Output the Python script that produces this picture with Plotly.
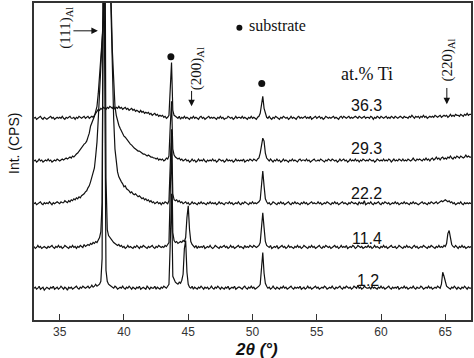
import numpy as np
import plotly.graph_objects as go

# ---------------- data ----------------
SCAN_START = 33.0   # 2theta of first point
SCAN_STEP = 0.1     # 2theta step of the scan
N_POINTS = 341
two_theta = np.round(SCAN_START + SCAN_STEP * np.arange(N_POINTS), 2)

ti_labels = ["1.2", "11.4", "22.2", "29.3", "36.3"]

# intensity above each pattern's own baseline (arbitrary units), one value per 0.1 deg
ti_1_2 = [
    0, 1, -1, 0, 2, -1, 0, 1, -2, 0,          # 33
    1, 0, -1, 1, 0, 2, -1, 0, 1, -1,          # 34
    0, 2, 0, -1, 1, 0, -2, 1, 0, 1,           # 35
    -1, 0, 1, 2, 0, -1, 1, 0, 2, 1,           # 36
    0, 1, 2, 0, 1, 3, 1, 2, 4, 2,             # 37
    3, 4, 7, 30, 420, 200, 18, 7, 4, 3,       # 38
    2, 1, 0, 2, 1, -1, 0, 1, 0, 2,            # 39
    0, -1, 1, 0, 2, 0, -1, 1, 0, -1,          # 40
    1, 0, 2, -1, 0, 1, 0, -1, 2, 0,           # 41
    -1, 1, 0, 0, 2, -1, 1, 0, -1, 1,          # 42
    0, 2, 1, 0, 2, 4, 45, 95, 12, 8,          # 43
    6, 5, 4, 6, 5, 8, 14, 40, 48, 16,         # 44
    4, 1, 0, 2, -1, 1, 0, -1, 1, 0,           # 45
    2, 0, -1, 1, 0, 1, -1, 0, 2, 0,           # 46
    -1, 1, 0, 2, 0, -1, 1, 0, -1, 1,          # 47
    0, 2, -1, 0, 1, 0, 2, -1, 0, 1,           # 48
    1, 0, -1, 1, 2, 0, -1, 1, 0, 2,           # 49
    0, 1, -1, 0, 1, 2, 4, 20, 36, 15,         # 50
    5, 2, 0, 1, -1, 0, 2, 0, -1, 1,           # 51
    0, -1, 1, 0, 2, 0, 1, -1, 0, 1,           # 52
    2, 0, -1, 1, 0, 1, 0, 2, -1, 0,           # 53
    1, -1, 0, 2, 0, 1, -1, 0, 1, 2,           # 54
    0, 1, -1, 0, 1, 0, 2, 1, -1, 0,           # 55
    1, 0, 2, 0, -1, 1, 0, 1, 2, 0,            # 56
    -1, 1, 0, 2, 1, 0, 1, -1, 0, 2,           # 57
    1, 0, 3, 0, 1, -1, 0, 2, 1, 0,            # 58
    0, 1, -1, 2, 0, 1, 0, -1, 1, 0,           # 59
    2, 0, 1, -1, 0, 1, 2, 0, -1, 1,           # 60
    0, 1, 0, 2, -1, 0, 1, 0, 2, 0,            # 61
    1, -1, 0, 1, 0, 2, 0, -1, 1, 0,           # 62
    0, 2, 1, -1, 0, 1, 0, 2, 0, 1,            # 63
    -1, 0, 1, 0, 2, 1, 0, 4, 16, 12,          # 64
    5, 2, 1, 0, -1, 1, 0, 2, 0, -1,           # 65
    1, 0, -1, 1, 0, 2, 0, -1, 1, 0,           # 66
    0]                                        # 67

ti_11_4 = [
    1, -1, 0, 2, 0, 1, -1, 0, 1, 0,           # 33
    -1, 1, 0, 1, 2, 0, -1, 1, 0, 2,           # 34
    0, 1, -1, 0, 2, 1, 0, -1, 1, 0,           # 35
    2, 0, 1, -1, 1, 0, 2, 1, 0, 3,            # 36
    1, 2, 3, 2, 4, 3, 5, 4, 6, 5,             # 37
    7, 10, 16, 45, 300, 420, 70, 18, 12, 10,  # 38
    8, 7, 5, 4, 3, 2, 3, 1, 2, 0,             # 39
    1, -1, 0, 2, 0, 1, 0, -1, 1, 0,           # 40
    2, 0, -1, 1, 0, 2, 1, 0, -1, 1,           # 41
    0, 1, 2, 0, -1, 1, 0, 2, 1, 0,            # 42
    1, 0, 2, 1, 3, 5, 55, 105, 15, 7,         # 43
    5, 6, 4, 5, 6, 5, 7, 6, 10, 30,           # 44
    42, 18, 6, 3, 1, 0, 2, -1, 1, 0,          # 45
    1, 0, 2, -1, 0, 1, 0, 2, 0, -1,           # 46
    0, 2, 1, 0, -1, 1, 0, 1, 2, 0,            # 47
    1, -1, 0, 2, 0, 1, -1, 0, 1, 2,           # 48
    0, 1, 0, -1, 2, 0, 1, 0, 2, 1,            # 49
    0, 2, 1, 0, 1, 2, 5, 25, 35, 20,          # 50
    6, 2, 1, 0, 2, -1, 0, 1, 0, 2,            # 51
    -1, 0, 1, 2, 0, 1, -1, 0, 2, 0,           # 52
    1, 0, -1, 1, 0, 2, 0, 1, -1, 0,           # 53
    2, 1, 0, -1, 1, 0, 2, 0, 1, -1,           # 54
    0, 1, 2, 0, -1, 1, 0, 2, 1, 0,            # 55
    1, -1, 0, 1, 2, 0, 1, -1, 0, 2,           # 56
    0, 1, 0, 2, -1, 0, 1, 0, 2, 1,            # 57
    -1, 0, 2, 1, 0, 1, -1, 0, 1, 0,           # 58
    2, 0, 1, -1, 0, 2, 0, 1, 0, -1,           # 59
    1, 0, 2, 0, 1, -1, 0, 1, 2, 0,            # 60
    0, 1, -1, 0, 2, 1, 0, -1, 1, 0,           # 61
    2, 0, 1, 0, -1, 1, 2, 0, 1, -1,           # 62
    0, 1, 0, 2, 1, 0, -1, 1, 0, 2,            # 63
    1, 0, -1, 1, 0, 2, 0, 1, 0, 2,            # 64
    1, 4, 14, 17, 8, 3, 1, 0, 2, 0,           # 65
    -1, 1, 0, 2, 0, 1, -1, 0, 1, 0,           # 66
    1]                                        # 67

ti_22_2 = [
    0, 1, -1, 0, 1, 2, 0, -1, 1, 0,           # 33
    1, 0, 2, 0, -1, 1, 0, 1, 2, 1,            # 34
    0, 2, 1, 1, 3, 2, 1, 3, 2, 4,             # 35
    3, 5, 4, 6, 5, 7, 6, 8, 9, 10,            # 36
    12, 13, 16, 18, 22, 26, 32, 36, 48, 62,   # 37
    85, 115, 150, 190, 225, 250, 265, 270, 265, 240,  # 38
    190, 130, 85, 55, 40, 32, 27, 24, 22, 20, # 39
    17, 18, 15, 14, 13, 11, 12, 10, 9, 10,    # 40
    8, 7, 8, 6, 5, 6, 4, 5, 3, 4,             # 41
    2, 3, 1, 2, 0, 1, 2, 0, 1, -1,            # 42
    1, 0, 2, 1, 0, 3, 40, 75, 10, 4,          # 43
    3, 4, 2, 3, 1, 2, 0, 1, 2, 0,             # 44
    1, -1, 0, 2, 0, 1, 0, -1, 1, 0,           # 45
    2, 0, 1, 0, -1, 1, 0, 2, 0, 1,            # 46
    0, 1, -1, 0, 2, 0, 1, 0, -1, 1,           # 47
    1, 0, 2, 0, 1, -1, 0, 1, 0, 2,            # 48
    0, -1, 1, 0, 2, 1, 0, -1, 1, 0,           # 49
    2, 0, 1, 0, 1, 2, 4, 20, 33, 18,          # 50
    5, 2, 0, 1, -1, 0, 2, 1, 0, -1,           # 51
    1, 0, 2, 0, 1, -1, 0, 1, 2, 0,            # 52
    -1, 1, 0, 2, 0, 1, 0, -1, 1, 0,           # 53
    2, 0, 1, -1, 0, 1, 2, 0, 1, 0,            # 54
    0, 2, 0, 1, -1, 0, 1, 0, 2, 1,            # 55
    0, -1, 1, 0, 2, 0, 1, -1, 0, 1,           # 56
    2, 0, 1, 0, -1, 1, 0, 2, 1, 0,            # 57
    1, 0, -1, 2, 0, 1, 0, 3, -1, 0,           # 58
    1, 0, 2, 0, -1, 1, 0, 1, 2, 0,            # 59
    -1, 1, 0, 2, 1, 0, 1, -1, 0, 1,           # 60
    0, 2, 0, 1, -1, 0, 1, 0, 2, 0,            # 61
    1, 0, -1, 1, 0, 2, 0, 1, 0, -1,           # 62
    0, 1, 2, 0, 1, 0, -1, 1, 0, 2,            # 63
    1, 0, 1, 2, 0, 1, 2, 3, 2, 3,             # 64
    4, 3, 2, 3, 1, 2, 0, 1, -1, 0,            # 65
    1, 0, 2, 0, -1, 1, 0, 1, 0, 1,            # 66
    0]                                        # 67

ti_29_3 = [
    0, 1, -1, 0, 2, 0, 1, -1, 0, 1,           # 33
    0, 2, 0, 1, -1, 0, 1, 0, 2, 1,            # 34
    0, 1, 2, 1, 2, 3, 2, 3, 4, 3,             # 35
    5, 4, 6, 7, 8, 10, 11, 13, 15, 17,        # 36
    18, 20, 24, 28, 35, 38, 42, 45, 50, 55,   # 37
    68, 85, 100, 120, 140, 165, 185, 195, 200, 190,  # 38
    160, 110, 75, 55, 46, 40, 36, 33, 30, 28, # 39
    25, 24, 22, 20, 18, 17, 16, 14, 13, 12,   # 40
    11, 10, 10, 9, 8, 7, 7, 6, 5, 6,          # 41
    5, 4, 4, 3, 3, 2, 3, 1, 2, 1,             # 42
    2, 0, 1, 3, 2, 5, 35, 60, 12, 6,          # 43
    4, 3, 2, 3, 1, 2, 0, 1, 2, 0,             # 44
    1, -1, 0, 2, 0, 1, -1, 0, 2, 0,           # 45
    1, 0, 2, 0, -1, 1, 0, 1, 0, 2,            # 46
    0, 1, -1, 0, 2, 1, 0, 1, -1, 0,           # 47
    2, 0, 1, 0, 1, -1, 0, 2, 0, 1,            # 48
    0, 1, 0, 2, -1, 0, 1, 0, 2, 1,            # 49
    0, 2, 1, 0, 2, 3, 8, 18, 23, 20,          # 50
    8, 3, 1, 0, 2, 0, -1, 1, 0, 2,            # 51
    0, 1, -1, 0, 2, 0, 1, 0, -1, 1,           # 52
    0, 2, 0, 1, 0, -1, 1, 2, 0, 1,            # 53
    1, 0, 2, 0, 1, -1, 0, 1, 2, 0,            # 54
    0, 1, 0, 2, 1, 0, -1, 1, 0, 2,            # 55
    1, 0, 2, 1, 0, 1, -1, 0, 2, 0,            # 56
    1, 2, 0, 1, -1, 0, 2, 0, 1, 0,            # 57
    2, 0, 1, -1, 1, 0, 2, 1, 0, 1,            # 58
    0, 2, 1, 0, 1, -1, 0, 2, 1, 0,            # 59
    1, 0, 2, 0, 1, 0, 2, 1, -1, 1,            # 60
    2, 0, 1, 0, 2, 1, 0, 2, 0, 1,             # 61
    0, 2, 1, 0, 1, 3, 1, 0, 2, 1,             # 62
    2, 1, 0, 2, 1, 3, 1, 2, 0, 2,             # 63
    3, 1, 2, 4, 2, 3, 1, 3, 4, 2,             # 64
    3, 2, 4, 3, 5, 3, 2, 4, 3, 5,             # 65
    4, 3, 5, 4, 3, 4, 6, 4, 5, 4,             # 66
    4]                                        # 67

ti_36_3 = [
    0, 1, -1, 0, 1, 2, 0, -1, 1, 0,           # 33
    -1, 0, 1, 2, 0, 1, -1, 0, 1, 0,           # 34
    1, 0, 2, 0, -1, 1, 0, 1, 2, 0,            # 35
    0, 1, -1, 1, 0, 2, 1, 0, 1, 2,            # 36
    0, 1, 2, 0, 1, 2, 1, 3, 4, 7,             # 37
    9, 8, 10, 9, 11, 10, 9, 11, 10, 12,       # 38
    11, 10, 12, 9, 11, 10, 12, 10, 11, 9,     # 39
    10, 11, 9, 10, 8, 9, 10, 8, 9, 7,         # 40
    8, 7, 6, 8, 6, 7, 5, 6, 5, 6,             # 41
    4, 5, 3, 4, 5, 3, 4, 2, 3, 2,             # 42
    3, 1, 2, 0, 1, 3, 30, 56, 8, 3,           # 43
    2, 1, 0, 2, -1, 1, 0, 2, 0, 1,            # 44
    0, -1, 1, 0, 2, 0, 1, 0, -1, 1,           # 45
    2, 0, 1, -1, 0, 1, 2, 0, 1, 0,            # 46
    1, 0, -1, 1, 0, 2, 0, 1, -1, 0,           # 47
    0, 2, 1, 0, 1, -1, 0, 2, 0, 1,            # 48
    1, 0, 2, 0, 1, 0, -1, 1, 0, 2,            # 49
    0, 1, 0, -1, 1, 2, 5, 14, 22, 10,         # 50
    4, 1, 0, 2, 0, -1, 1, 0, 2, 1,            # 51
    0, -1, 1, 0, 2, 1, 0, 1, -1, 0,           # 52
    2, 0, 1, 0, -1, 1, 2, 0, 1, 0,            # 53
    1, 2, 0, 1, 0, 2, -1, 0, 1, 2,            # 54
    0, 1, 2, 0, 1, -1, 0, 2, 1, 0,            # 55
    1, 0, 1, 2, 0, 1, 0, -1, 1, 2,            # 56
    0, 2, 1, 0, 1, 2, 0, 1, 0, 1,             # 57
    2, 1, 0, 2, 1, 0, 1, 2, 0, 1,             # 58
    1, 0, 2, 1, -1, 1, 0, 2, 1, 0,            # 59
    2, 1, 0, 1, 2, 0, 1, 0, 2, 1,             # 60
    0, 2, 1, 0, 1, 2, 1, 0, 2, 1,             # 61
    1, 0, 2, 1, 3, 1, 0, 2, 1, 2,             # 62
    0, 2, 1, 3, 1, 2, 0, 1, 2, 1,             # 63
    2, 1, 3, 2, 1, 2, 3, 1, 2, 3,             # 64
    2, 3, 1, 2, 4, 2, 3, 2, 4, 3,             # 65
    3, 2, 4, 3, 2, 4, 3, 5, 3, 4,             # 66
    4]                                        # 67

patterns = [ti_1_2, ti_11_4, ti_22_2, ti_29_3, ti_36_3]
for p in patterns:
    assert len(p) == N_POINTS, len(p)

x_ticks = [35, 40, 45, 50, 55, 60, 65]
substrate_peaks = [43.65, 50.72]

# ---------------- layout helpers (positions / styles) ----------------
offsets = [32, 73, 117, 160, 203]          # vertical stacking of patterns
label_x = [59.0, 58.9, 58.9, 58.9, 58.9]
label_y = [40, 82, 127, 172.5, 216]
dot_y = [265, 238]

SERIF = "Liberation Serif, Times New Roman, serif"
SANS = "Liberation Sans, Arial, sans-serif"
INK = "#111111"

fig = go.Figure()
for vals, off in zip(patterns, offsets):
    fig.add_trace(go.Scatter(
        x=two_theta, y=np.array(vals, dtype=float) + off,
        mode="lines", line=dict(color=INK, width=1.2),
        hoverinfo="skip", showlegend=False))

# substrate markers
fig.add_trace(go.Scatter(
    x=substrate_peaks, y=dot_y, mode="markers",
    marker=dict(color=INK, size=7), showlegend=False, hoverinfo="skip"))
fig.add_trace(go.Scatter(
    x=[48.98], y=[294], mode="markers",
    marker=dict(color=INK, size=6), showlegend=False, hoverinfo="skip"))

ann = []
for lab, lx, ly in zip(ti_labels, label_x, label_y):
    ann.append(dict(x=lx, y=ly, xref="x", yref="y", text=lab, showarrow=False,
                    xanchor="center", yanchor="middle",
                    font=dict(family=SANS, size=16, color=INK)))

ann.append(dict(x=58.9, y=248, xref="x", yref="y", text="at.% Ti", showarrow=False,
                xanchor="center", yanchor="middle",
                font=dict(family=SERIF, size=18, color=INK)))
ann.append(dict(x=49.6, y=296, xref="x", yref="y", text="substrate", showarrow=False,
                xanchor="left", yanchor="middle",
                font=dict(family=SERIF, size=16, color=INK)))

# reflection labels
for txt, tx, ty in [("(111)<sub>Al</sub>", 35.48, 294),
                    ("(200)<sub>Al</sub>", 45.65, 253),
                    ("(220)<sub>Al</sub>", 65.2, 262)]:
    ann.append(dict(x=tx, y=ty, xref="x", yref="y", text=txt, showarrow=False,
                    textangle=-90, xanchor="center", yanchor="middle",
                    font=dict(family=SERIF, size=15, color=INK)))

# arrows
for hx, hy, tx, ty in [(37.97, 291, 35.95, 291),
                       (45.26, 215, 45.26, 232),
                       (65.12, 217, 65.12, 235)]:
    ann.append(dict(x=hx, y=hy, ax=tx, ay=ty, xref="x", yref="y", axref="x", ayref="y",
                    text="", showarrow=True, arrowhead=2, arrowsize=1.3,
                    arrowwidth=1, arrowcolor=INK))

# axis titles
ann.append(dict(x=0.509, y=-0.094, xref="paper", yref="paper",
                xanchor="center", yanchor="middle",
                text="<b><i>2θ (°)</i></b>", showarrow=False,
                font=dict(family=SANS, size=17, color=INK)))
ann.append(dict(x=-0.046, y=0.558, xref="paper", yref="paper",
                xanchor="center", yanchor="middle",
                text="Int. (CPS)", showarrow=False, textangle=-90,
                font=dict(family=SANS, size=14, color=INK)))

fig.update_layout(
    width=474, height=358,
    margin=dict(l=34, r=2, t=1, b=38),
    paper_bgcolor="white", plot_bgcolor="white",
    showlegend=False,
    annotations=ann,
    xaxis=dict(range=[33, 67], tickvals=x_ticks, ticks="inside", ticklen=6,
               tickcolor="#333", tickwidth=1, showline=True, mirror=True,
               linecolor="#333", linewidth=1.5, showgrid=False, zeroline=False,
               tickfont=dict(family=SANS, size=12, color="#333")),
    yaxis=dict(range=[0, 319], showticklabels=False, ticks="", showline=True,
               mirror=True, linecolor="#333", linewidth=1.5, showgrid=False,
               zeroline=False),
)

fig.write_html(
    "out.html",
    config={"displayModeBar": False},
    post_script="document.body.style.margin='0px';document.body.style.overflow='hidden';",
)
